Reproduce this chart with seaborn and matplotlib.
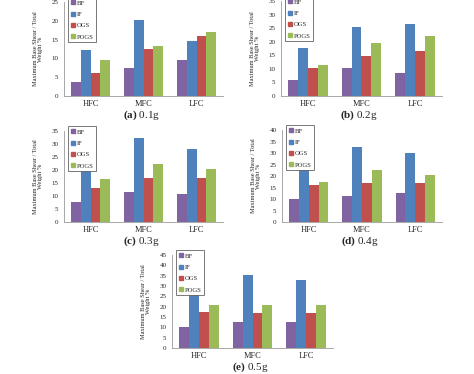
import numpy as np
import pandas as pd
import matplotlib
matplotlib.use("Agg")
import matplotlib.pyplot as plt
import seaborn as sns
from matplotlib.lines import Line2D

frames = ["HFC", "MFC", "LFC"]
systems = ["BF", "IF", "OGS", "POGS"]
colors = ["#8064A2", "#4F81BD", "#C0504D", "#9BBB59"]

# values per PGA level, rows = frames, cols = systems
v_01 = [[3.8, 12.2, 6.2, 9.6], [7.4, 20.2, 12.6, 13.3], [9.6, 14.6, 15.9, 17.0]]
v_02 = [[5.8, 17.8, 10.2, 11.5], [10.2, 25.3, 14.8, 19.7], [8.5, 26.4, 16.6, 22.1]]
v_03 = [[7.6, 19.7, 12.9, 16.6], [11.4, 32.5, 16.8, 22.4], [10.9, 28.2, 17.0, 20.3]]
v_04 = [[9.8, 22.5, 16.0, 17.2], [11.2, 32.8, 16.8, 22.8], [12.5, 29.8, 16.8, 20.5]]
v_05 = [[10.0, 25.8, 17.2, 21.0], [12.5, 35.3, 17.0, 21.0], [12.8, 33.0, 17.0, 21.0]]

panels = [
    ("(a)", "0.1g", v_01, 25, (64, 223, 2, 96)),
    ("(b)", "0.2g", v_02, 35, (281, 442, 1, 96)),
    ("(c)", "0.3g", v_03, 35, (64, 223, 131, 222)),
    ("(d)", "0.4g", v_04, 40, (282, 442, 130, 222)),
    ("(e)", "0.5g", v_05, 45, (172, 333, 255, 348)),
]

sns.set_style("white")
plt.rcParams["font.family"] = ["Liberation Serif", "DejaVu Serif"]
plt.rcParams["mathtext.fontset"] = "custom"
plt.rcParams["mathtext.rm"] = "Liberation Serif"
plt.rcParams["mathtext.bf"] = "Liberation Serif:bold"

W, H = 474, 374
fig = plt.figure(figsize=(W / 100, H / 100), dpi=100)

for tag, pga, vals, ymax, (l, r, t, b) in panels:
    ax = fig.add_axes([l / W, 1 - b / H, (r - l) / W, (b - t) / H])
    rows = []
    for i, f in enumerate(frames):
        for j, s in enumerate(systems):
            rows.append({"frame": f, "system": s, "value": vals[i][j]})
    df = pd.DataFrame(rows)
    sns.barplot(data=df, x="frame", y="value", hue="system", hue_order=systems,
                palette=colors, width=0.74, gap=0, saturation=1, ax=ax,
                legend=False, errorbar=None, linewidth=0)
    ax.set_ylim(0, ymax)
    ax.set_xlim(-0.5, 2.5)
    ax.set_yticks(np.arange(0, ymax + 1, 5))
    ax.tick_params(axis="y", labelsize=5, length=0, pad=4)
    ax.tick_params(axis="x", labelsize=6, length=0, pad=3)
    ax.set_xlabel("")
    ax.set_ylabel("Maximum Base Shear / Total\nWeight %", fontsize=4.6, labelpad=6,
                  linespacing=1.0)
    for sp in ["top", "right"]:
        ax.spines[sp].set_visible(False)
    for sp in ["left", "bottom"]:
        ax.spines[sp].set_color("#9a9a9a")
        ax.spines[sp].set_linewidth(0.6)
    handles = [Line2D([], [], marker="s", linestyle="", color=c, markersize=2.5)
               for c in colors]
    leg = ax.legend(handles, systems, loc="upper left", bbox_to_anchor=(0.025, 1.05),
                    fontsize=4.8, frameon=True, fancybox=False, handlelength=0.6,
                    handletextpad=0.3, borderpad=0.4, labelspacing=0.85,
                    borderaxespad=0)
    leg.get_frame().set_edgecolor("#555555")
    leg.get_frame().set_linewidth(0.7)
    ax.text((l + r) / 2 / W - 0.005, 1 - (b + 19) / H, r"$\bf{" + tag + r"}$ " + pga,
            transform=fig.transFigure, ha="center", va="center", fontsize=8)

fig.savefig("out.png", dpi=100)
